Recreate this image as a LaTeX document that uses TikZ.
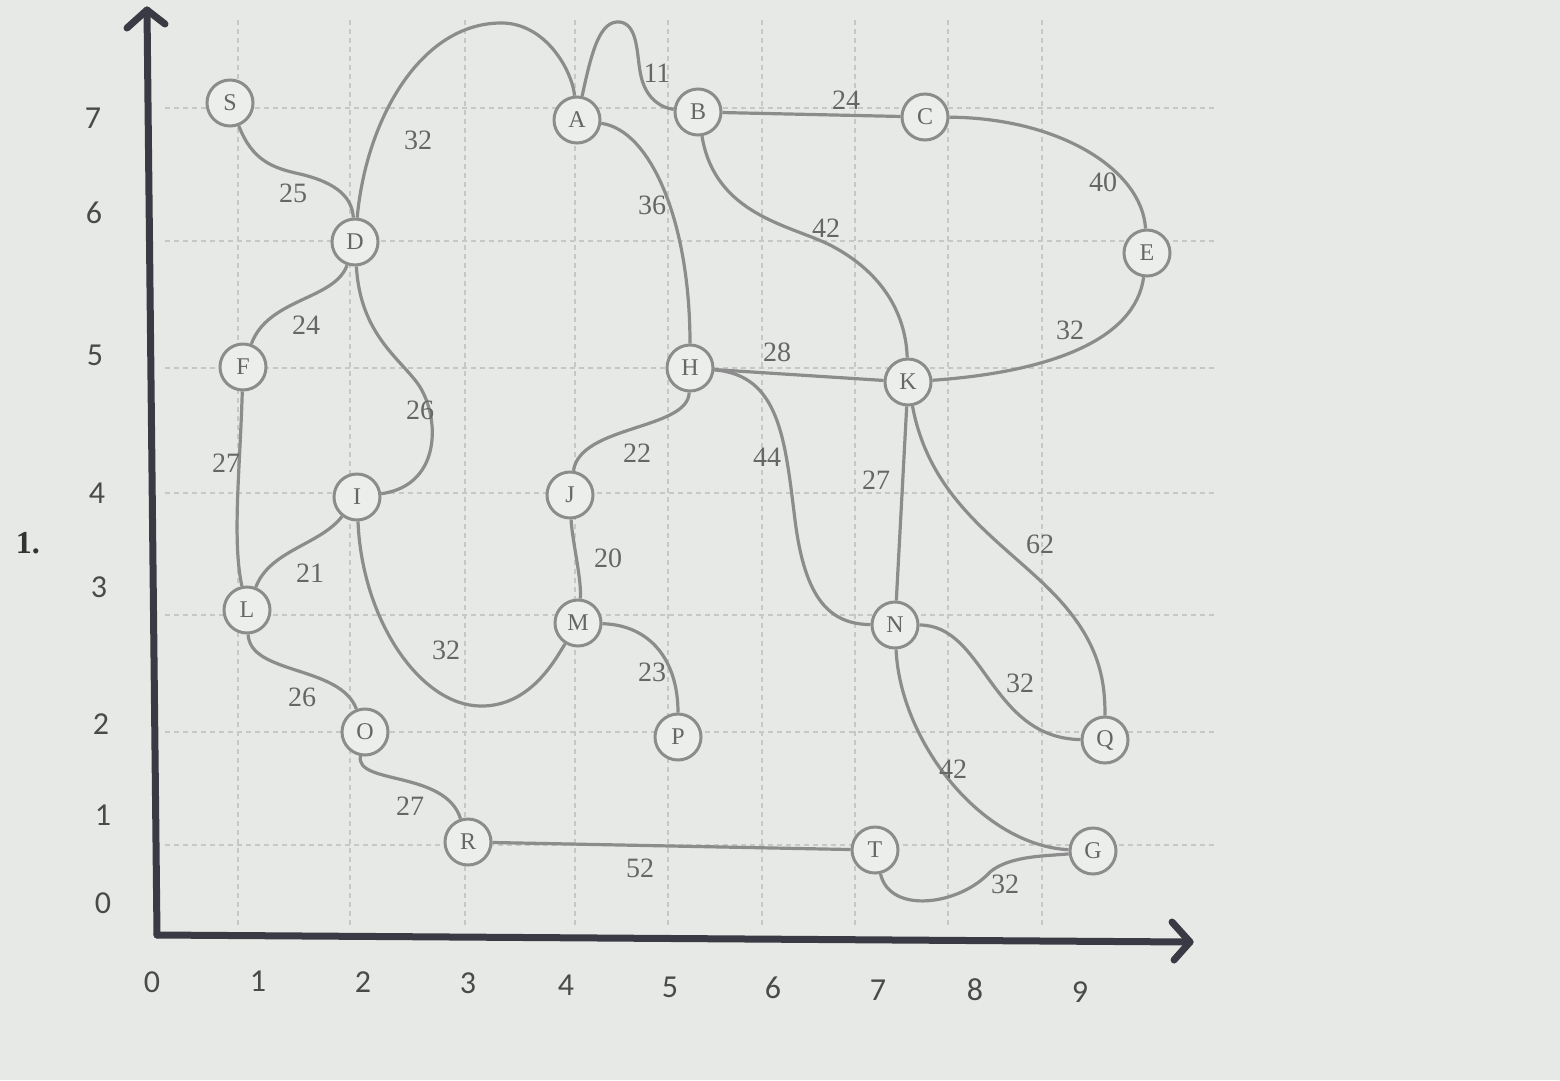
\documentclass[tikz,border=0pt]{standalone}
\usepackage{fontspec}
\setmainfont{Liberation Serif}
\newfontfamily\axisfont{Carlito}
\definecolor{bgcol}{HTML}{E7E9E6}
\definecolor{edgecol}{HTML}{8C8C8C}
\definecolor{nodefill}{HTML}{ECEEEB}
\definecolor{txtcol}{HTML}{666666}
\definecolor{gridcol}{HTML}{C6C8C5}
\definecolor{axiscol}{HTML}{3A3A44}
\definecolor{ticktxt}{HTML}{4A4A4A}
\begin{document}
\begin{tikzpicture}[x=1pt,y=-1pt,
  edge/.style={draw=edgecol,line width=3.2pt},
  vert/.style={circle,draw=edgecol,line width=3pt,fill=nodefill,minimum size=46pt,inner sep=0pt,text=txtcol,font=\fontsize{24}{26}\selectfont},
  wlab/.style={text=txtcol,font=\fontsize{28}{30}\selectfont,inner sep=0pt},
  gridln/.style={draw=gridcol,line width=1.5pt,dash pattern=on 5pt off 4pt},
  axisln/.style={draw=axiscol,line width=7pt,line cap=round,line join=round},
  ticklab/.style={text=ticktxt,font=\axisfont\fontsize{32}{34}\selectfont,inner sep=0pt}]
\useasboundingbox (0,0) rectangle (1560,1080);
\fill[bgcol] (0,0) rectangle (1560,1080);
% grid
\foreach \yy in {108,241,368,493,615,732,845} \draw[gridln] (165,\yy) -- (1215,\yy);
\foreach \xx in {238,350,465,575,668,762,855,948,1042} \draw[gridln] (\xx,20) -- (\xx,928);
% axes
\coordinate (org) at (157,935);
\coordinate (ytip) at (147,10);
\coordinate (xtip) at (1190,942);
\draw[axisln] (org) -- (ytip);
\draw[axisln] (127,28) -- (ytip) -- (165,24);
\draw[axisln] (org) -- (xtip);
\draw[axisln] (1172,922) -- (xtip) -- (1174,960);
% tick labels
\node[ticklab] (y7) at (93,118) {7};
\node[ticklab] (y6) at (94,213) {6};
\node[ticklab] (y5) at (95,355) {5};
\node[ticklab] (y4) at (97,493) {4};
\node[ticklab] (y3) at (99,587) {3};
\node[ticklab] (y2) at (101,724) {2};
\node[ticklab] (y1) at (103,815) {1};
\node[ticklab] (y0) at (103,903) {0};
\node[ticklab] (x0) at (152,982) {0};
\node[ticklab] (x1) at (258,981) {1};
\node[ticklab] (x2) at (363,982) {2};
\node[ticklab] (x3) at (468,983) {3};
\node[ticklab] (x4) at (566,985) {4};
\node[ticklab] (x5) at (670,987) {5};
\node[ticklab] (x6) at (773,988) {6};
\node[ticklab] (x7) at (878,990) {7};
\node[ticklab] (x8) at (975,990) {8};
\node[ticklab] (x9) at (1080,992) {9};
\node[text=black!80,font=\bfseries\fontsize{32}{34}\selectfont,inner sep=0pt] (num) at (28,543) {1.};
% vertices
\node[vert] (S) at (230,103) {S};
\node[vert] (A) at (577,120) {A};
\node[vert] (B) at (698,112) {B};
\node[vert] (C) at (925,117) {C};
\node[vert] (D) at (355,242) {D};
\node[vert] (E) at (1147,253) {E};
\node[vert] (F) at (243,367) {F};
\node[vert] (H) at (690,368) {H};
\node[vert] (K) at (908,382) {K};
\node[vert] (I) at (357,497) {I};
\node[vert] (J) at (570,495) {J};
\node[vert] (L) at (247,610) {L};
\node[vert] (M) at (578,623) {M};
\node[vert] (N) at (895,625) {N};
\node[vert] (O) at (365,732) {O};
\node[vert] (P) at (678,737) {P};
\node[vert] (Q) at (1105,740) {Q};
\node[vert] (R) at (468,842) {R};
\node[vert] (T) at (875,850) {T};
\node[vert] (G) at (1093,851) {G};
% edges
\draw[edge] (S) .. controls (252,160) and (272,168) .. (300,174) .. controls (338,183) and (352,198) .. (D);
\draw[edge] (D) .. controls (366,120) and (420,24) .. (500,23) .. controls (545,22) and (572,70) .. (A);
\draw[edge] (A) .. controls (592,50) and (600,20) .. (620,22) .. controls (640,25) and (636,60) .. (642,80) .. controls (648,100) and (662,108) .. (B);
\draw[edge] (A) .. controls (650,130) and (690,220) .. (H);
\draw[edge] (B) -- (C);
\draw[edge] (B) .. controls (715,215) and (790,225) .. (830,245) .. controls (888,275) and (906,320) .. (K);
\draw[edge] (C) .. controls (1060,118) and (1142,170) .. (E);
\draw[edge] (E) .. controls (1135,340) and (1050,372) .. (K);
\draw[edge] (D) .. controls (335,300) and (268,298) .. (F);
\draw[edge] (D) .. controls (360,330) and (395,355) .. (415,380) .. controls (440,410) and (445,485) .. (I);
\draw[edge] (H) -- (K);
\draw[edge] (H) .. controls (688,430) and (580,425) .. (J);
\draw[edge] (H) .. controls (780,375) and (785,440) .. (795,520) .. controls (805,600) and (830,624) .. (N);
\draw[edge] (K) -- (N);
\draw[edge] (K) .. controls (930,500) and (1000,540) .. (1050,590) .. controls (1100,640) and (1105,680) .. (Q);
\draw[edge] (F) .. controls (240,470) and (232,540) .. (L);
\draw[edge] (I) .. controls (320,545) and (270,550) .. (L);
\draw[edge] (I) .. controls (362,620) and (420,705) .. (480,706) .. controls (530,707) and (555,660) .. (M);
\draw[edge] (J) .. controls (572,540) and (582,580) .. (M);
\draw[edge] (M) .. controls (650,625) and (678,660) .. (P);
\draw[edge] (L) .. controls (250,675) and (340,665) .. (O);
\draw[edge] (O) .. controls (355,785) and (445,770) .. (R);
\draw[edge] (R) -- (T);
\draw[edge] (N) .. controls (985,625) and (990,738) .. (Q);
\draw[edge] (N) .. controls (900,740) and (980,845) .. (G);
\draw[edge] (T) .. controls (890,915) and (960,905) .. (990,872) .. controls (1010,855) and (1050,856) .. (G);
% weights
\node[wlab] (w1) at (293,193) {25};
\node[wlab] (w2) at (418,140) {32};
\node[wlab] (w3) at (657,73) {11};
\node[wlab] (w4) at (652,205) {36};
\node[wlab] (w5) at (846,100) {24};
\node[wlab] (w6) at (826,228) {42};
\node[wlab] (w7) at (1103,182) {40};
\node[wlab] (w8) at (1070,330) {32};
\node[wlab] (w9) at (306,325) {24};
\node[wlab] (w10) at (420,410) {26};
\node[wlab] (w11) at (777,352) {28};
\node[wlab] (w12) at (637,453) {22};
\node[wlab] (w13) at (767,457) {44};
\node[wlab] (w14) at (876,480) {27};
\node[wlab] (w15) at (1040,544) {62};
\node[wlab] (w16) at (226,463) {27};
\node[wlab] (w17) at (310,573) {21};
\node[wlab] (w18) at (446,650) {32};
\node[wlab] (w19) at (608,558) {20};
\node[wlab] (w20) at (652,672) {23};
\node[wlab] (w21) at (302,697) {26};
\node[wlab] (w22) at (410,806) {27};
\node[wlab] (w23) at (640,868) {52};
\node[wlab] (w24) at (1020,683) {32};
\node[wlab] (w25) at (953,769) {42};
\node[wlab] (w26) at (1005,884) {32};
\end{tikzpicture}
\end{document}
